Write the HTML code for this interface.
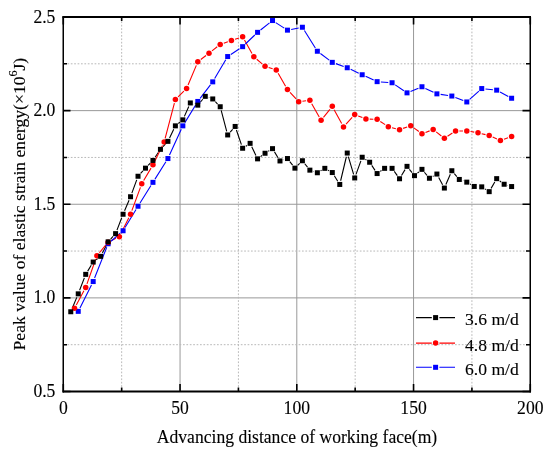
<!DOCTYPE html>
<html><head><meta charset="utf-8"><title>Peak value of elastic strain energy</title>
<style>html,body{margin:0;padding:0;background:#fff;}svg{display:block;}</style></head>
<body><svg width="550" height="453" viewBox="0 0 550 453">
<style>text{stroke:#000;stroke-width:0.12px;}</style>
<rect width="550" height="453" fill="#fff"/>
<line x1="180.05" y1="18" x2="180.05" y2="390" stroke="#999999" stroke-width="1"/>
<line x1="296.80" y1="18" x2="296.80" y2="390" stroke="#999999" stroke-width="1"/>
<line x1="413.55" y1="18" x2="413.55" y2="390" stroke="#999999" stroke-width="1"/>
<line x1="64" y1="297.875" x2="529" y2="297.875" stroke="#999999" stroke-width="1"/>
<line x1="64" y1="204.25" x2="529" y2="204.25" stroke="#999999" stroke-width="1"/>
<line x1="64" y1="110.625" x2="529" y2="110.625" stroke="#999999" stroke-width="1"/>
<line x1="121.67" y1="18" x2="121.67" y2="390" stroke="#b8b8b8" stroke-width="1" stroke-dasharray="1.7 1.7"/>
<line x1="238.42" y1="18" x2="238.42" y2="390" stroke="#b8b8b8" stroke-width="1" stroke-dasharray="1.7 1.7"/>
<line x1="355.17" y1="18" x2="355.17" y2="390" stroke="#b8b8b8" stroke-width="1" stroke-dasharray="1.7 1.7"/>
<line x1="471.92" y1="18" x2="471.92" y2="390" stroke="#b8b8b8" stroke-width="1" stroke-dasharray="1.7 1.7"/>
<line x1="64" y1="344.69" x2="529" y2="344.69" stroke="#b8b8b8" stroke-width="1" stroke-dasharray="1.7 1.7"/>
<line x1="64" y1="251.06" x2="529" y2="251.06" stroke="#b8b8b8" stroke-width="1" stroke-dasharray="1.7 1.7"/>
<line x1="64" y1="157.44" x2="529" y2="157.44" stroke="#b8b8b8" stroke-width="1" stroke-dasharray="1.7 1.7"/>
<line x1="64" y1="63.81" x2="529" y2="63.81" stroke="#b8b8b8" stroke-width="1" stroke-dasharray="1.7 1.7"/>
<path d="M72.24,308.24L76.78,297.36M79.60,290.30L84.36,277.90M87.69,271.10L91.22,265.30M96.21,259.75L97.64,258.65M102.40,252.97L106.39,245.23M110.69,239.04L113.04,236.46M116.97,230.10L121.71,217.80M124.57,210.76L129.06,200.24M131.85,193.18L136.72,179.82M140.60,173.46L142.92,170.94M148.14,165.42L150.32,163.18M155.09,157.30L158.31,152.50M163.03,146.57L165.31,144.13M169.56,137.93L173.73,129.27M178.34,123.47L179.89,122.23M184.39,116.37L188.79,106.43M193.97,104.02L194.15,104.08M200.26,102.25L202.81,99.25M208.86,97.60L209.15,97.70M215.37,101.69L217.58,104.01M221.19,110.42L226.71,131.28M230.19,132.10L232.65,129.30M236.39,130.04L241.40,144.66M245.81,146.17L246.92,145.43M251.75,146.77L255.92,155.43M260.61,156.57L262.00,155.53M268.28,151.26L269.28,150.64M274.49,151.90L278.02,157.70M283.61,159.79L283.84,159.71M289.79,161.55L292.60,165.15M297.63,165.48L299.70,163.42M304.77,163.72L307.51,167.18M313.46,171.40L313.76,171.50M320.62,170.82L321.55,170.28M328.13,170.21L328.98,170.69M334.31,175.77L337.74,181.23M340.64,180.75L346.36,156.75M348.33,156.69L353.62,174.31M356.00,174.38L360.89,160.82M365.34,159.36L366.49,160.14M371.75,165.42L375.03,170.38M380.24,171.38L381.48,170.52M394.29,171.44L397.32,175.66M401.50,175.50L405.05,169.60M409.39,169.31L412.10,172.69M417.39,173.20L419.05,171.80M424.40,172.26L426.98,175.34M432.74,176.39L433.59,175.91M438.69,177.40L442.58,184.70M445.88,184.56L450.34,174.24M454.32,173.63L456.84,176.57M462.89,180.74L463.21,180.86M470.08,184.05L470.97,184.55M484.93,188.90L486.01,189.60M491.10,188.36L494.78,181.94M499.72,180.93L501.11,181.97M507.78,185.37L507.99,185.43" fill="none" stroke="#000" stroke-width="1.1"/>
<path d="M76.30,305.00L83.92,290.80M86.98,283.87L95.66,259.23M99.36,252.74L105.69,245.16M111.53,240.55L115.94,238.35M121.04,233.25L128.85,217.65M131.86,210.68L140.45,187.32M143.69,180.48L151.03,168.12M154.64,161.44L162.50,145.46M165.14,138.38L174.41,103.22M178.08,96.88L183.89,91.12M188.06,84.95L196.32,65.35M200.80,59.52L206.00,55.48M212.01,50.82L217.21,46.78M223.79,43.17L227.84,41.73M235.03,39.26L239.02,37.94M244.48,40.07L251.99,53.53M256.75,59.29L262.13,63.81M268.65,67.44L272.64,68.76M278.15,73.24L285.57,86.16M290.02,92.26L296.11,98.94M302.44,101.28L306.11,100.82M311.73,103.66L319.23,117.04M323.46,117.38L329.92,109.32M334.11,109.69L341.68,123.61M346.04,124.12L352.17,117.28M358.22,115.89L362.40,117.61M369.71,119.15L373.33,119.25M380.30,121.44L385.16,124.66M392.01,127.70L395.86,128.70M403.12,128.37L407.17,126.93M413.83,127.88L418.88,131.52M425.51,132.42L429.61,130.88M436.15,131.90L441.38,136.00M447.54,136.26L452.41,133.04M459.38,130.95L462.99,130.95M470.54,131.55L474.24,132.15M481.68,133.67L485.52,134.63M492.69,137.07L496.93,138.93M504.00,139.20L508.03,137.80" fill="none" stroke="#ff0000" stroke-width="1.1"/>
<path d="M79.95,307.95L91.48,284.95M94.59,278.02L106.73,247.28M111.00,241.26L120.21,233.24M125.05,227.51L136.04,209.49M140.03,203.03L150.95,185.57M154.98,179.13L165.89,161.77M169.49,155.09L181.27,129.31M184.84,122.61L195.81,104.69M200.10,98.43L210.44,84.87M214.67,78.58L225.75,59.82M230.85,54.45L239.46,48.75M245.37,44.02L254.83,34.98M260.55,30.00L269.53,22.90M275.71,22.60L284.26,28.10M291.19,29.43L298.67,27.97M304.41,30.48L315.34,48.02M320.40,53.52L329.24,60.08M335.87,63.64L343.66,66.46M350.68,69.36L358.74,73.14M365.63,76.34L373.67,80.06M380.91,81.93L388.28,82.47M395.22,84.88L403.86,90.72M410.53,91.41L418.44,88.19M425.39,88.38L433.47,92.22M440.66,94.40L448.08,95.50M455.38,97.45L463.25,100.55M469.62,99.41L478.90,91.09M485.51,88.95L492.90,89.75M500.02,91.96L508.28,96.44" fill="none" stroke="#0000ff" stroke-width="1.1"/>
<rect x="75.74" y="308.85" width="5.0" height="5.0" fill="#0000ff"/><rect x="90.69" y="279.05" width="5.0" height="5.0" fill="#0000ff"/><rect x="105.63" y="241.25" width="5.0" height="5.0" fill="#0000ff"/><rect x="120.58" y="228.25" width="5.0" height="5.0" fill="#0000ff"/><rect x="135.52" y="203.75" width="5.0" height="5.0" fill="#0000ff"/><rect x="150.46" y="179.85" width="5.0" height="5.0" fill="#0000ff"/><rect x="165.41" y="156.05" width="5.0" height="5.0" fill="#0000ff"/><rect x="180.35" y="123.35" width="5.0" height="5.0" fill="#0000ff"/><rect x="195.30" y="98.95" width="5.0" height="5.0" fill="#0000ff"/><rect x="210.24" y="79.35" width="5.0" height="5.0" fill="#0000ff"/><rect x="225.18" y="54.05" width="5.0" height="5.0" fill="#0000ff"/><rect x="240.13" y="44.15" width="5.0" height="5.0" fill="#0000ff"/><rect x="255.07" y="29.85" width="5.0" height="5.0" fill="#0000ff"/><rect x="270.02" y="18.05" width="5.0" height="5.0" fill="#0000ff"/><rect x="284.96" y="27.65" width="5.0" height="5.0" fill="#0000ff"/><rect x="299.90" y="24.75" width="5.0" height="5.0" fill="#0000ff"/><rect x="314.85" y="48.75" width="5.0" height="5.0" fill="#0000ff"/><rect x="329.79" y="59.85" width="5.0" height="5.0" fill="#0000ff"/><rect x="344.74" y="65.25" width="5.0" height="5.0" fill="#0000ff"/><rect x="359.68" y="72.25" width="5.0" height="5.0" fill="#0000ff"/><rect x="374.62" y="79.15" width="5.0" height="5.0" fill="#0000ff"/><rect x="389.57" y="80.25" width="5.0" height="5.0" fill="#0000ff"/><rect x="404.51" y="90.35" width="5.0" height="5.0" fill="#0000ff"/><rect x="419.46" y="84.25" width="5.0" height="5.0" fill="#0000ff"/><rect x="434.40" y="91.35" width="5.0" height="5.0" fill="#0000ff"/><rect x="449.34" y="93.55" width="5.0" height="5.0" fill="#0000ff"/><rect x="464.29" y="99.45" width="5.0" height="5.0" fill="#0000ff"/><rect x="479.23" y="86.05" width="5.0" height="5.0" fill="#0000ff"/><rect x="494.18" y="87.65" width="5.0" height="5.0" fill="#0000ff"/><rect x="509.12" y="95.75" width="5.0" height="5.0" fill="#0000ff"/>
<circle cx="74.51" cy="308.35" r="2.75" fill="#ff0000"/><circle cx="85.72" cy="287.45" r="2.75" fill="#ff0000"/><circle cx="96.92" cy="255.65" r="2.75" fill="#ff0000"/><circle cx="108.13" cy="242.25" r="2.75" fill="#ff0000"/><circle cx="119.34" cy="236.65" r="2.75" fill="#ff0000"/><circle cx="130.55" cy="214.25" r="2.75" fill="#ff0000"/><circle cx="141.76" cy="183.75" r="2.75" fill="#ff0000"/><circle cx="152.96" cy="164.85" r="2.75" fill="#ff0000"/><circle cx="164.17" cy="142.05" r="2.75" fill="#ff0000"/><circle cx="175.38" cy="99.55" r="2.75" fill="#ff0000"/><circle cx="186.59" cy="88.45" r="2.75" fill="#ff0000"/><circle cx="197.80" cy="61.85" r="2.75" fill="#ff0000"/><circle cx="209.00" cy="53.15" r="2.75" fill="#ff0000"/><circle cx="220.21" cy="44.45" r="2.75" fill="#ff0000"/><circle cx="231.42" cy="40.45" r="2.75" fill="#ff0000"/><circle cx="242.63" cy="36.75" r="2.75" fill="#ff0000"/><circle cx="253.84" cy="56.85" r="2.75" fill="#ff0000"/><circle cx="265.04" cy="66.25" r="2.75" fill="#ff0000"/><circle cx="276.25" cy="69.95" r="2.75" fill="#ff0000"/><circle cx="287.46" cy="89.45" r="2.75" fill="#ff0000"/><circle cx="298.67" cy="101.75" r="2.75" fill="#ff0000"/><circle cx="309.88" cy="100.35" r="2.75" fill="#ff0000"/><circle cx="321.08" cy="120.35" r="2.75" fill="#ff0000"/><circle cx="332.29" cy="106.35" r="2.75" fill="#ff0000"/><circle cx="343.50" cy="126.95" r="2.75" fill="#ff0000"/><circle cx="354.71" cy="114.45" r="2.75" fill="#ff0000"/><circle cx="365.92" cy="119.05" r="2.75" fill="#ff0000"/><circle cx="377.12" cy="119.35" r="2.75" fill="#ff0000"/><circle cx="388.33" cy="126.75" r="2.75" fill="#ff0000"/><circle cx="399.54" cy="129.65" r="2.75" fill="#ff0000"/><circle cx="410.75" cy="125.65" r="2.75" fill="#ff0000"/><circle cx="421.96" cy="133.75" r="2.75" fill="#ff0000"/><circle cx="433.16" cy="129.55" r="2.75" fill="#ff0000"/><circle cx="444.37" cy="138.35" r="2.75" fill="#ff0000"/><circle cx="455.58" cy="130.95" r="2.75" fill="#ff0000"/><circle cx="466.79" cy="130.95" r="2.75" fill="#ff0000"/><circle cx="478.00" cy="132.75" r="2.75" fill="#ff0000"/><circle cx="489.20" cy="135.55" r="2.75" fill="#ff0000"/><circle cx="500.41" cy="140.45" r="2.75" fill="#ff0000"/><circle cx="511.62" cy="136.55" r="2.75" fill="#ff0000"/>
<rect x="68.27" y="309.25" width="5.0" height="5.0" fill="#000"/><rect x="75.74" y="291.35" width="5.0" height="5.0" fill="#000"/><rect x="83.22" y="271.85" width="5.0" height="5.0" fill="#000"/><rect x="90.69" y="259.55" width="5.0" height="5.0" fill="#000"/><rect x="98.16" y="253.85" width="5.0" height="5.0" fill="#000"/><rect x="105.63" y="239.35" width="5.0" height="5.0" fill="#000"/><rect x="113.10" y="231.15" width="5.0" height="5.0" fill="#000"/><rect x="120.58" y="211.75" width="5.0" height="5.0" fill="#000"/><rect x="128.05" y="194.25" width="5.0" height="5.0" fill="#000"/><rect x="135.52" y="173.75" width="5.0" height="5.0" fill="#000"/><rect x="142.99" y="165.65" width="5.0" height="5.0" fill="#000"/><rect x="150.46" y="157.95" width="5.0" height="5.0" fill="#000"/><rect x="157.94" y="146.85" width="5.0" height="5.0" fill="#000"/><rect x="165.41" y="138.85" width="5.0" height="5.0" fill="#000"/><rect x="172.88" y="123.35" width="5.0" height="5.0" fill="#000"/><rect x="180.35" y="117.35" width="5.0" height="5.0" fill="#000"/><rect x="187.82" y="100.45" width="5.0" height="5.0" fill="#000"/><rect x="195.30" y="102.65" width="5.0" height="5.0" fill="#000"/><rect x="202.77" y="93.85" width="5.0" height="5.0" fill="#000"/><rect x="210.24" y="96.45" width="5.0" height="5.0" fill="#000"/><rect x="217.71" y="104.25" width="5.0" height="5.0" fill="#000"/><rect x="225.18" y="132.45" width="5.0" height="5.0" fill="#000"/><rect x="232.66" y="123.95" width="5.0" height="5.0" fill="#000"/><rect x="240.13" y="145.75" width="5.0" height="5.0" fill="#000"/><rect x="247.60" y="140.85" width="5.0" height="5.0" fill="#000"/><rect x="255.07" y="156.35" width="5.0" height="5.0" fill="#000"/><rect x="262.54" y="150.75" width="5.0" height="5.0" fill="#000"/><rect x="270.02" y="146.15" width="5.0" height="5.0" fill="#000"/><rect x="277.49" y="158.45" width="5.0" height="5.0" fill="#000"/><rect x="284.96" y="156.05" width="5.0" height="5.0" fill="#000"/><rect x="292.43" y="165.65" width="5.0" height="5.0" fill="#000"/><rect x="299.90" y="158.25" width="5.0" height="5.0" fill="#000"/><rect x="307.38" y="167.65" width="5.0" height="5.0" fill="#000"/><rect x="314.85" y="170.25" width="5.0" height="5.0" fill="#000"/><rect x="322.32" y="165.85" width="5.0" height="5.0" fill="#000"/><rect x="329.79" y="170.05" width="5.0" height="5.0" fill="#000"/><rect x="337.26" y="181.95" width="5.0" height="5.0" fill="#000"/><rect x="344.74" y="150.55" width="5.0" height="5.0" fill="#000"/><rect x="352.21" y="175.45" width="5.0" height="5.0" fill="#000"/><rect x="359.68" y="154.75" width="5.0" height="5.0" fill="#000"/><rect x="367.15" y="159.75" width="5.0" height="5.0" fill="#000"/><rect x="374.62" y="171.05" width="5.0" height="5.0" fill="#000"/><rect x="382.10" y="165.85" width="5.0" height="5.0" fill="#000"/><rect x="389.57" y="165.85" width="5.0" height="5.0" fill="#000"/><rect x="397.04" y="176.25" width="5.0" height="5.0" fill="#000"/><rect x="404.51" y="163.85" width="5.0" height="5.0" fill="#000"/><rect x="411.98" y="173.15" width="5.0" height="5.0" fill="#000"/><rect x="419.46" y="166.85" width="5.0" height="5.0" fill="#000"/><rect x="426.93" y="175.75" width="5.0" height="5.0" fill="#000"/><rect x="434.40" y="171.55" width="5.0" height="5.0" fill="#000"/><rect x="441.87" y="185.55" width="5.0" height="5.0" fill="#000"/><rect x="449.34" y="168.25" width="5.0" height="5.0" fill="#000"/><rect x="456.82" y="176.95" width="5.0" height="5.0" fill="#000"/><rect x="464.29" y="179.65" width="5.0" height="5.0" fill="#000"/><rect x="471.76" y="183.95" width="5.0" height="5.0" fill="#000"/><rect x="479.23" y="184.35" width="5.0" height="5.0" fill="#000"/><rect x="486.70" y="189.15" width="5.0" height="5.0" fill="#000"/><rect x="494.18" y="176.15" width="5.0" height="5.0" fill="#000"/><rect x="501.65" y="181.75" width="5.0" height="5.0" fill="#000"/><rect x="509.12" y="184.05" width="5.0" height="5.0" fill="#000"/>
<path d="M63.30,391.5v-7.5M63.30,17.0v7.5M180.05,391.5v-7.5M180.05,17.0v7.5M296.80,391.5v-7.5M296.80,17.0v7.5M413.55,391.5v-7.5M413.55,17.0v7.5M530.30,391.5v-7.5M530.30,17.0v7.5M121.67,391.5v-4M121.67,17.0v4M238.42,391.5v-4M238.42,17.0v4M355.17,391.5v-4M355.17,17.0v4M471.92,391.5v-4M471.92,17.0v4M63.0,391.50h7.5M530.0,391.50h-7.5M63.0,297.88h7.5M530.0,297.88h-7.5M63.0,204.25h7.5M530.0,204.25h-7.5M63.0,110.62h7.5M530.0,110.62h-7.5M63.0,17.00h7.5M530.0,17.00h-7.5M63.0,344.69h4M530.0,344.69h-4M63.0,251.06h4M530.0,251.06h-4M63.0,157.44h4M530.0,157.44h-4M63.0,63.81h4M530.0,63.81h-4" stroke="#000" stroke-width="1.6" fill="none"/>
<path d="M62.5,17H531M62.5,391.5H531" stroke="#000" stroke-width="2" fill="none"/>
<path d="M63.25,16V392.5M530.25,16V392.5" stroke="#000" stroke-width="1.5" fill="none"/>
<g font-family="Liberation Serif, serif" font-size="17.6" fill="#000"><text transform="translate(63.30,414.3) scale(1,1.04)" text-anchor="middle">0</text><text transform="translate(180.05,414.3) scale(1,1.04)" text-anchor="middle">50</text><text transform="translate(296.80,414.3) scale(1,1.04)" text-anchor="middle">100</text><text transform="translate(413.55,414.3) scale(1,1.04)" text-anchor="middle">150</text><text transform="translate(530.30,414.3) scale(1,1.04)" text-anchor="middle">200</text><text transform="translate(55.4,396.80) scale(1,1.04)" text-anchor="end">0.5</text><text transform="translate(55.4,303.30) scale(1,1.04)" text-anchor="end">1.0</text><text transform="translate(55.4,209.80) scale(1,1.04)" text-anchor="end">1.5</text><text transform="translate(55.4,116.30) scale(1,1.04)" text-anchor="end">2.0</text><text transform="translate(55.4,22.80) scale(1,1.04)" text-anchor="end">2.5</text></g>
<text transform="translate(297,442.5) scale(1,1.03)" text-anchor="middle" font-family="Liberation Serif, serif" font-size="17.6">Advancing distance of working face(m)</text>
<text transform="translate(25.0,204.1) rotate(-90)" text-anchor="middle" font-family="Liberation Serif, serif" font-size="17.6">Peak value of elastic strain energy(&#215;10<tspan font-size="12" dy="-8.5">6</tspan><tspan dy="8.5">J)</tspan></text>
<path d="M416,317.6H431.80M439.40,317.6H455" stroke="#000" stroke-width="1.1"/><rect x="433.1" y="315.1" width="5.0" height="5.0" fill="#000"/><text transform="translate(465,325.1)" font-family="Liberation Serif, serif" font-size="17.6">3.6 m/d</text><path d="M416,343.1H431.80M439.40,343.1H455" stroke="#ff0000" stroke-width="1.1"/><circle cx="435.6" cy="343.1" r="2.75" fill="#ff0000"/><text transform="translate(465,350.6)" font-family="Liberation Serif, serif" font-size="17.6">4.8 m/d</text><path d="M416,367.3H431.80M439.40,367.3H455" stroke="#0000ff" stroke-width="1.1"/><rect x="433.1" y="364.8" width="5.0" height="5.0" fill="#0000ff"/><text transform="translate(465,374.8)" font-family="Liberation Serif, serif" font-size="17.6">6.0 m/d</text>
</svg></body></html>
